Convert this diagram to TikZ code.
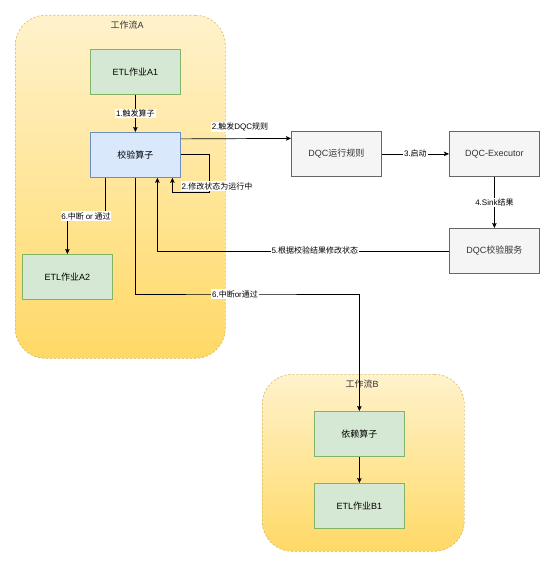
\documentclass[tikz,border=0pt]{standalone}
\usepackage{fontspec}
\setmainfont{Noto Sans CJK SC}
\newfontfamily\lafont{Liberation Sans}
\newcommand\la[1]{{\lafont #1}}
\usetikzlibrary{arrows.meta}
\definecolor{gfill}{HTML}{D5E8D4}\definecolor{gdraw}{HTML}{82B366}
\definecolor{bfill}{HTML}{DAE8FC}\definecolor{bdraw}{HTML}{6C8EBF}
\definecolor{sfill}{HTML}{F5F5F5}\definecolor{sdraw}{HTML}{666666}
\definecolor{ytop}{HTML}{FFF2CC}\definecolor{ybot}{HTML}{FFD966}\definecolor{ydraw}{HTML}{D6B656}
\definecolor{txt}{HTML}{333333}
\begin{document}
\begin{tikzpicture}[x=1pt,y=-1pt,
  box/.style={draw, line width=0.8pt, minimum width=90pt, minimum height=45pt, inner sep=0pt,
    anchor=north west, font=\fontsize{9}{10}\selectfont},
  green/.style={box, fill=gfill, draw=gdraw},
  blue/.style={box, fill=bfill, draw=bdraw},
  grey/.style={box, fill=sfill, draw=sdraw, text=txt},
  cont/.style={anchor=north west, inner sep=0pt, rounded corners=30pt, top color=ytop, bottom color=ybot,
    draw=ydraw, dash pattern=on 2pt off 2pt, line width=0.6pt},
  ttl/.style={font=\fontsize{9}{10}\selectfont, text=txt, inner sep=0pt},
  lbl/.style={fill=white, inner sep=0.8pt, font=\fontsize{8}{9}\selectfont},
  arr/.style={draw, line width=0.7pt, -{Stealth[length=5pt,width=4.5pt,inset=1pt]}}]
\useasboundingbox (0,0) rectangle (554,569);
% containers
\node[cont, minimum width=210pt, minimum height=343pt] (wfA) at (15,15) {};
\node[ttl] (tA) at (127,25) {工作流\la{A}};
\node[cont, minimum width=202pt, minimum height=177pt] (wfB) at (262,374) {};
\node[ttl] (tB) at (362,384) {工作流\la{B}};
% boxes
\node[green] (a1) at (90,49) {\la{ETL}作业\la{A1}};
\node[blue] (chk) at (90,132) {校验算子};
\node[green] (a2) at (22,254) {\la{ETL}作业\la{A2}};
\node[grey] (dqr) at (291,131) {\la{DQC}运行规则};
\node[grey] (exe) at (449,131) {\la{DQC-Executor}};
\node[grey] (svc) at (449,228) {\la{DQC}校验服务};
\node[green] (dep) at (314,411) {依赖算子};
\node[green] (b1) at (314,483) {\la{ETL}作业\la{B1}};
% coordinates
\coordinate (c1) at (209,192);
\coordinate (c2) at (86,216);
\coordinate (c3) at (235,294);
% edges
\draw[arr] (a1) -- node[lbl]{\la{1.}触发算子} (chk);
\draw[arr] ([yshift=16pt]chk.east) -- ([yshift=15.5pt]dqr.west);
\node[lbl] (l2a) at (240,127) {\la{2.}触发\la{DQC}规则};
\draw[arr] ([yshift=1pt]chk.east) -| (c1) -| ([xshift=37pt]chk.south);
\node[lbl] (l2b) at (217,186) {\la{2.}修改状态为运行中};
\draw[arr] (dqr) -- node[lbl]{\la{3.}启动} (exe);
\draw[arr] (exe) -- node[lbl]{\la{4.Sink}结果} (svc);
\draw[arr] (svc.west) -| node[lbl, pos=0.23]{\la{5.}根据校验结果修改状态} ([xshift=22pt]chk.south);
\draw[arr] ([xshift=-30pt]chk.south) |- (c2) -| (a2.north);
\node[lbl] (l6a) at (c2) {\la{6.}中断 \la{or} 通过};
\draw[arr] (chk.south) |- (c3) -| (dep.north);
\node[lbl] (l6b) at (c3) {\la{6.}中断\la{or}通过};
\draw[arr] (dep) -- (b1);
\end{tikzpicture}
\end{document}
